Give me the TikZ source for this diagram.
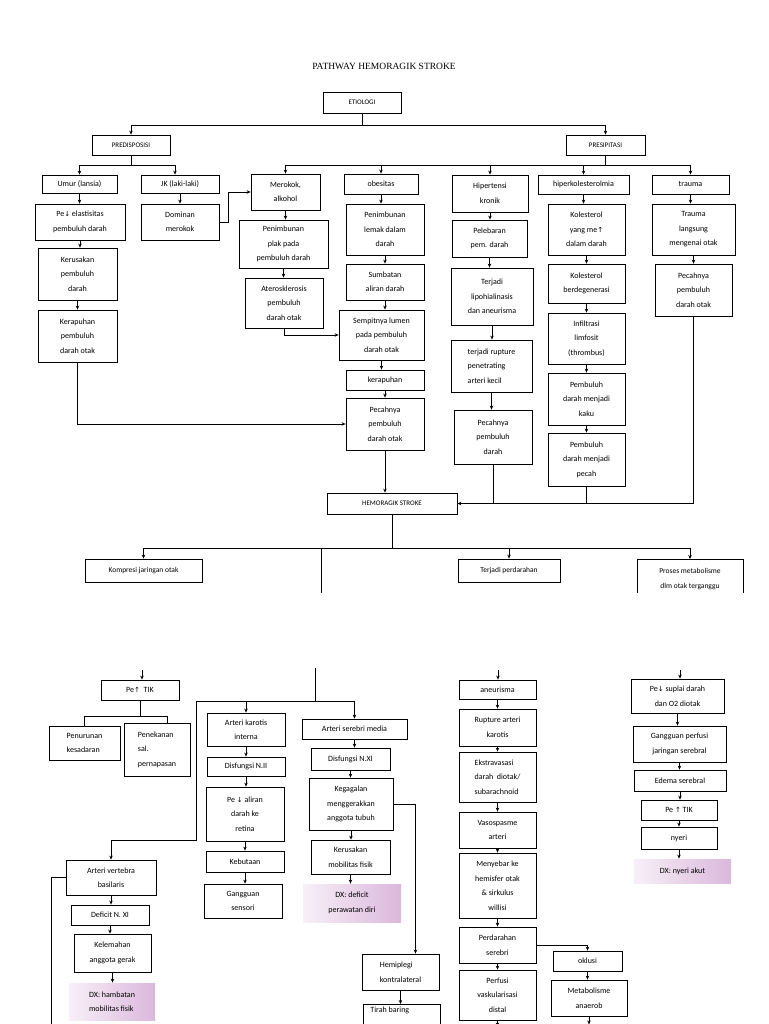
\documentclass[tikz,border=0pt]{standalone}
\usepackage{fontspec}
\setmainfont{Carlito}
\newfontfamily\ttl{Liberation Serif}
\newfontfamily\dv{DejaVu Sans}
\usetikzlibrary{arrows.meta}
\newcommand\dn{{\dv\fontsize{7}{7}\selectfont↓}}
\newcommand\up{{\dv\fontsize{7}{7}\selectfont↑}}
\newcommand\B[7][]{\node[box,#1,minimum width={(#5-#3)*1pt},minimum height={(#6-#4)*1pt}] (#2) at ({(#3+#5)/2},{(#4+#6)/2}) {#7};}
\tikzset{
 box/.style={draw,line width=0.8pt,inner sep=1pt,align=center,font=\fontsize{8}{14.5}\selectfont},
 dxbox/.style={draw=none,left color=violet!6,right color=violet!28},
 arr/.style={line width=0.7pt,-{Stealth[length=4pt,width=3.5pt]}},
 ln/.style={line width=0.7pt}
}
\begin{document}
\begin{tikzpicture}[x=1pt,y=-1pt]
\useasboundingbox[fill=white] (0,0) rectangle (768,1024);
\node[font=\ttl\fontsize{9.5}{11}\selectfont] (title) at (384,66) {PATHWAY HEMORAGIK STROKE};
\B[font=\fontsize{7}{9}\selectfont]{etio}{323}{92}{401}{113}{ETIOLOGI}
\B[font=\fontsize{7}{9}\selectfont]{pred}{92}{135}{170}{155}{PREDISPOSISI}
\B[font=\fontsize{7}{9}\selectfont]{pres}{566}{135}{645}{155}{PRESIPITASI}
\B{umur}{42}{175}{117}{193}{Umur (lansia)}
\B{jk}{141}{175}{219}{193}{JK (laki-laki)}
\B{merok}{251}{174}{320}{210}{Merokok,\\alkohol}
\B{obes}{344}{174}{418}{194}{obesitas}
\B{hip}{452}{175}{528}{212}{Hipertensi\\kronik}
\B{hiper}{538}{175}{629}{194}{hiperkolesterolmia}
\B{trauma}{652}{175}{729}{194}{trauma}
% umur column
\B{elas}{35}{204}{125}{240}{Pe\dn\ elastisitas\\pembuluh darah}
\B{kerus}{38}{248}{117}{300}{Kerusakan\\pembuluh\\darah}
\B{kerap}{38}{310}{117}{362}{Kerapuhan\\pembuluh\\darah otak}
\B{domin}{141}{204}{219}{240}{Dominan\\merokok}
\B{plak}{239}{220}{328}{268}{Penimbunan\\plak pada\\pembuluh darah}
\B{ateros}{245}{278}{323}{328}{Aterosklerosis\\pembuluh\\darah otak}
\B{lemak}{346}{204}{424}{255}{Penimbunan\\lemak dalam\\darah}
\B{sumbat}{346}{264}{424}{300}{Sumbatan\\aliran darah}
\B{sempit}{339}{310}{424}{360}{Sempitnya lumen\\pada pembuluh\\darah otak}
\B{kerap2}{346}{370}{424}{390}{kerapuhan}
\B{pecah1}{346}{398}{424}{450}{Pecahnya\\pembuluh\\darah otak}
\B{lebar}{452}{220}{527}{257}{Pelebaran\\pem. darah}
\B{lipo}{451}{268}{533}{325}{Terjadi\\lipohialinasis\\dan aneurisma}
\B[align=left]{rupt}{451}{340}{532}{392}{terjadi rupture\\penetrating\\arteri kecil}
\B{pecah2}{454}{410}{532}{464}{Pecahnya\\pembuluh\\darah}
\B{kol1}{548}{204}{625}{255}{Kolesterol\\yang me\up\\dalam darah}
\B{kol2}{548}{264}{625}{303}{Kolesterol\\berdegenerasi}
\B{infil}{548}{313}{625}{364}{Infiltrasi\\limfosit\\(thrombus)}
\B{kaku}{548}{373}{625}{425}{Pembuluh\\darah menjadi\\kaku}
\B{pecah3}{548}{433}{625}{486}{Pembuluh\\darah menjadi\\pecah}
\B{lang}{652}{204}{735}{255}{Trauma\\langsung\\mengenai otak}
\B{pecah4}{655}{264}{732}{316}{Pecahnya\\pembuluh\\darah otak}
\B[font=\fontsize{7}{9}\selectfont]{hemo}{327}{493}{457}{514}{HEMORAGIK STROKE}
\B[font=\fontsize{7.5}{9}\selectfont]{kompr}{85}{559}{202}{582}{Kompresi jaringan otak}
\B[font=\fontsize{7.5}{9}\selectfont]{tperd}{458}{559}{560}{582}{Terjadi perdarahan}
\node[box,draw=none,minimum width=105pt,minimum height=40pt,anchor=north,font=\fontsize{7.5}{15}\selectfont] (proses) at (690,559) {Proses metabolisme\\dlm otak terganggu};
\draw[ln] (proses.west |- 0,593) -- (proses.north west) -- (proses.north east) -- (proses.east |- 0,593);
% top connectors
\draw[ln] (etio.south) -- ++(0,12) coordinate (e1);
\draw[arr] (e1) -| (pred.north); \draw[arr] (e1) -| (pres.north);
\draw[ln] (pred.south) -- ++(0,10) coordinate (e2);
\draw[arr] (e2) -| (umur.north); \draw[arr] (e2) -| ([xshift=-5]jk.north);
\draw[ln] (pres.south) -- ++(0,10) coordinate (e3);
\foreach \n in {merok,obes,hip,hiper,trauma}{\draw[arr] (e3) -| (\n.north);}
\foreach \a/\b in {umur/elas,elas/kerus,kerus/kerap,jk/domin,merok/plak,plak/ateros,obes/lemak,lemak/sumbat,sumbat/sempit,sempit/kerap2,kerap2/pecah1,hip/lebar,lebar/lipo,lipo/rupt,rupt/pecah2,hiper/kol1,kol1/kol2,kol2/infil,infil/kaku,kaku/pecah3,trauma/lang,lang/pecah4}
 {\draw[arr] (\a.south) -- (\a.south |- \b.north);}
\draw[arr] (kerap.south) |- (pecah1.west);
\draw[arr] (domin.east) -- ++(9,0) |- (merok.west);
\draw[arr] (ateros.south) |- (sempit.west);
\draw[arr] (pecah1.south) -- (pecah1.south |- hemo.north);
\draw[ln] (pecah2.south) -- (pecah2.south |- hemo.east);
\draw[ln] (pecah3.south) -- (pecah3.south |- hemo.east);
\draw[arr] (pecah4.south) |- (hemo.east);
\draw[ln] (hemo.south) -- ++(0,34) coordinate (h1);
\draw[arr] (h1) -| (kompr.north); \draw[arr] (h1) -| (tperd.north); \draw[arr] (h1) -| (proses.north);
\coordinate (c1) at (321,593);
\draw[ln] (c1 |- h1) -- (c1);
% ===== second page =====
\coordinate (t1) at (142,670); \coordinate (t2) at (315,668);
\coordinate (t3) at (498,670); \coordinate (t4) at (680,670);
\B{ptik}{101}{680}{179}{700}{Pe\up\ \ TIK}
\B[align=left]{penur}{49}{726}{120}{760}{Penurunan\\kesadaran}
\B[align=left]{penek}{124}{723}{190}{776}{Penekanan\\sal.\\pernapasan}
\B{karo}{207}{713}{285}{746}{Arteri karotis\\interna}
\B{disII}{207}{757}{285}{776}{Disfungsi N.II}
\B{alir}{206}{787}{284}{841}{Pe \dn\ aliran\\darah ke\\retina}
\B{buta}{206}{851}{284}{872}{Kebutaan}
\B{sens}{204}{884}{282}{918}{Gangguan\\sensori}
\B{sere}{302}{719}{407}{739}{Arteri serebri media}
\B{disXI}{311}{748}{390}{770}{Disfungsi N.XI}
\B{gagal}{309}{778}{393}{830}{Kegagalan\\menggerakkan\\anggota tubuh}
\B{mobil}{311}{840}{390}{874}{Kerusakan\\mobilitas fisik}
\B[dxbox]{dx1}{303}{884}{401}{922}{DX: deficit\\perawatan diri}
\B[align=left]{hemi}{362}{954}{439}{990}{Hemiplegi\\kontralateral}
\node[box,draw=none,align=left,anchor=north west,inner xsep=7pt,inner ysep=3pt] (tirah) at (363,1004) {Tirah baring};
\draw[ln] (363,1026) -- (363,1004) -- (440,1004) -- (440,1026);
\B{vert}{66}{860}{156}{895}{Arteri vertebra\\basilaris}
\B{defXI}{71}{905}{149}{925}{Deficit N. XI}
\B{lemah}{74}{934}{151}{972}{Kelemahan\\anggota gerak}
\B[dxbox,align=left]{dx2}{69}{983}{155}{1020}{DX: hambatan\\mobilitas fisik}
\B{aneu}{459}{680}{536}{699}{aneurisma}
\B{rupk}{459}{709}{536}{746}{Rupture arteri\\karotis}
\B[align=left]{ekstra}{459}{752}{536}{802}{Ekstravasasi\\darah\ \ diotak/\\subarachnoid}
\B{vaso}{459}{812}{536}{848}{Vasospasme\\arteri}
\B{nyebar}{459}{853}{536}{918}{Menyebar ke\\hemisfer otak\\\& sirkulus\\willisi}
\B{perd}{459}{927}{536}{963}{Perdarahan\\serebri}
\B{perf}{459}{970}{536}{1020}{Perfusi\\vaskularisasi\\distal}
\B{oklu}{553}{951}{622}{971}{oklusi}
\B{meta}{551}{980}{627}{1016}{Metabolisme\\anaerob}
\B{supl}{631}{679}{724}{713}{Pe\dn\ suplai darah\\dan O2 diotak}
\B{ggper}{633}{726}{726}{762}{Gangguan perfusi\\jaringan serebral}
\B{edema}{634}{770}{726}{791}{Edema serebral}
\B{ptik2}{641}{800}{717}{820}{Pe \up\ TIK}
\B{nyeri}{641}{827}{717}{849}{nyeri}
\B[dxbox]{dx3}{634}{859}{731}{883}{DX: nyeri akut}
% page 2 connectors
\draw[arr] (t1) -- (t1 |- ptik.north);
\draw[arr] (t3) -- (t3 |- aneu.north);
\draw[arr] (t4) -- (t4 |- supl.north);
\draw[ln] (ptik.south) -- ++(0,16) coordinate (p1);
\draw[ln] (penur.north) -- (penur.north |- p1) -- (p1 -| 167,0) -- (167,723);
\coordinate (j) at (315,701); \coordinate (jl) at (196,701); \coordinate (jb) at (196,840);
\draw[ln] (t2) -- (j);
\draw[arr] (j) -| (sere.north);
\draw[arr] (j) -| (karo.north);
\draw[arr] (j) -- (jl) -- (jb) -| (vert.north);
\foreach \a/\b in {karo/disII,disII/alir,alir/buta,buta/sens,sere/disXI,disXI/gagal,gagal/mobil,mobil/dx1,hemi/tirah,vert/defXI,defXI/lemah,lemah/dx2,aneu/rupk,rupk/ekstra,ekstra/vaso,vaso/nyebar,nyebar/perd,perd/perf,oklu/meta,supl/ggper,ggper/edema,edema/ptik2,ptik2/nyeri,nyeri/dx3}
 {\draw[arr] (\a.south) -- (\a.south |- \b.north);}
\draw[arr] (gagal.east) -| ([xshift=15]hemi.north);
\draw[arr] (perd.east) -| (oklu.north);
\coordinate (vb) at (51,1024);
\draw[ln] (vert.west) -| (vb);
\draw[arr] (perf.south) -- ++(0,6);
\draw[arr] (meta.south) -- ++(0,8);
\end{tikzpicture}
\end{document}
